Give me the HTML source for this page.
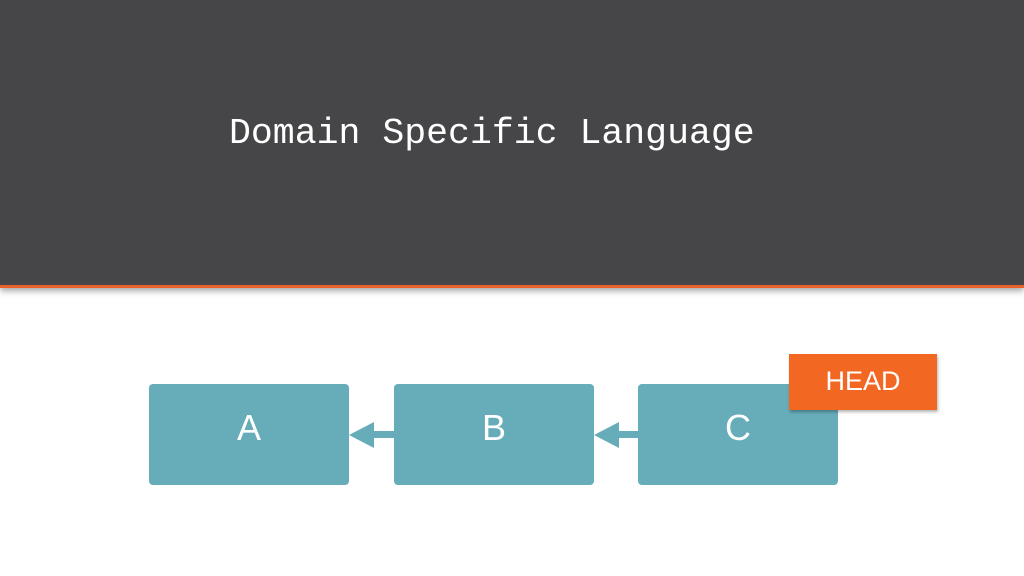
<!DOCTYPE html>
<html><head><style>
body{margin:0;width:1024px;height:576px;background:#fff;position:relative;overflow:hidden;font-family:"Liberation Sans",sans-serif}
.hdr{position:absolute;left:0;top:0;width:1024px;height:285px;background:#464547;border-bottom:3px solid #e8602a;box-shadow:0 3px 6px rgba(0,0,0,0.35)}
.t{position:absolute;left:229px;top:112px;font-family:"Liberation Mono",monospace;font-size:36.5px;color:#fff;line-height:44px;white-space:pre}
.b{position:absolute;top:384px;width:200px;height:101px;background:#66adb9;border-radius:4px;color:#fff;font-size:36px;text-align:center;line-height:88px}
.h{position:absolute;left:789px;top:354px;width:148px;height:56px;background:#f26722;color:#fff;font-size:27px;text-align:center;line-height:54px;box-shadow:1px 2px 3px rgba(0,0,0,0.3)}
</style></head><body>
<div class="hdr"></div>
<div class="t">Domain Specific Language</div>
<div class="b" style="left:149px">A</div>
<div class="b" style="left:394px">B</div>
<div class="b" style="left:638px">C</div>
<svg style="position:absolute;left:0;top:0" width="1024" height="576">
<g fill="#66adb9">
<rect x="372" y="431" width="24" height="7"/><polygon points="349,435 374,422 374,448"/>
<rect x="617" y="431" width="23" height="7"/><polygon points="594,435 619,422 619,448"/>
</g></svg>
<div class="h">HEAD</div>
</body></html>
